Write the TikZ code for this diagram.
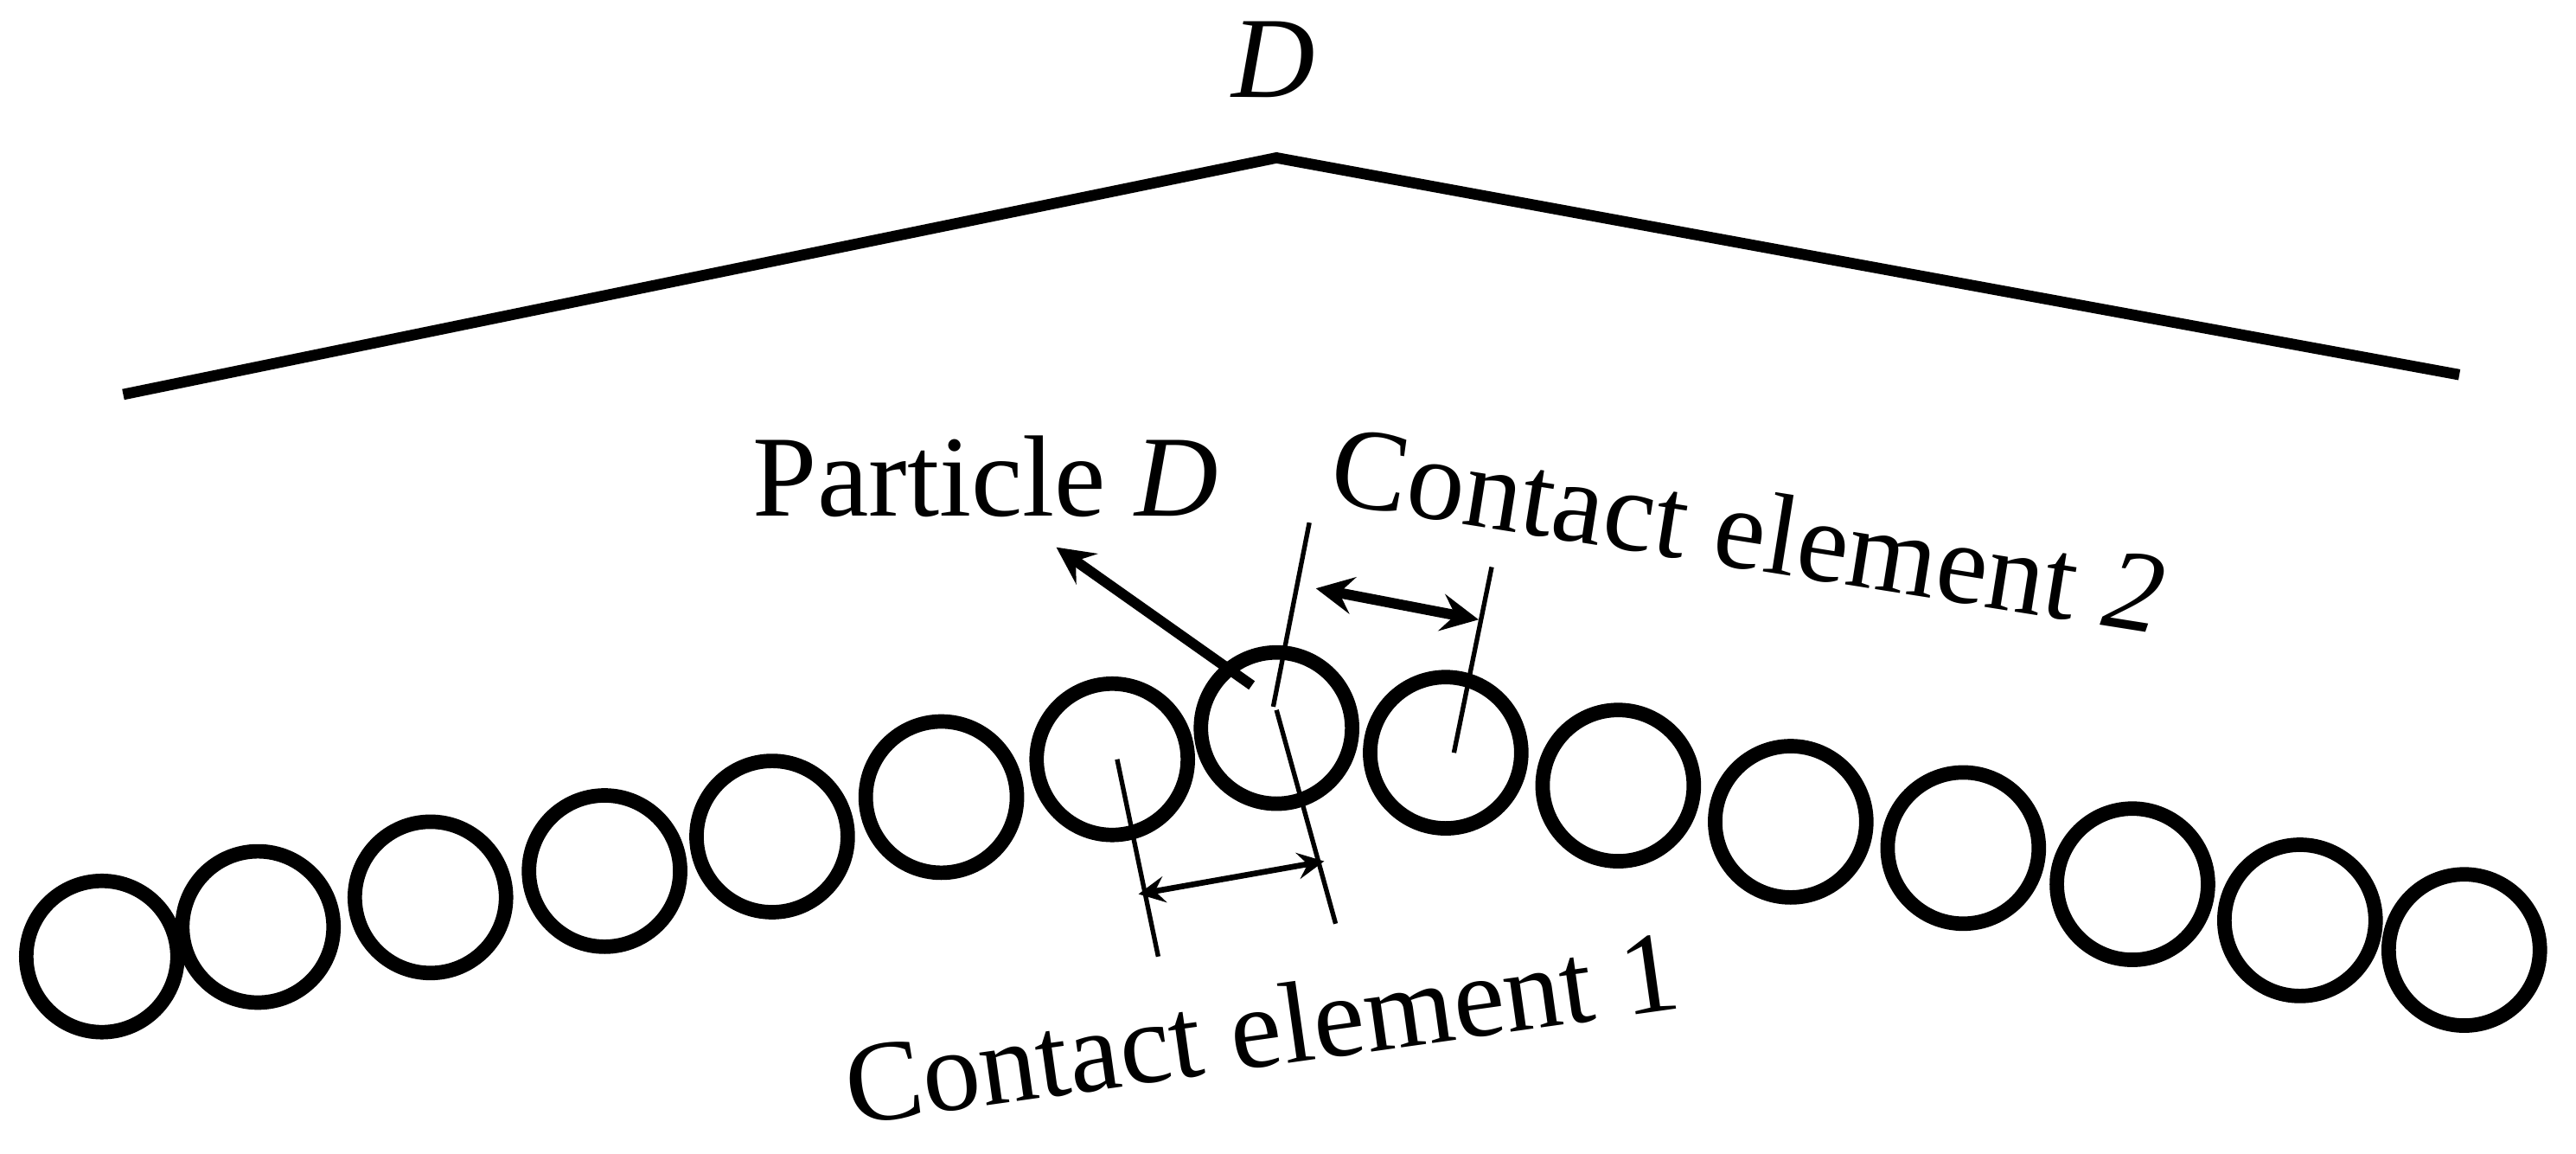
\documentclass[tikz,border=0pt]{standalone}
\usepackage{fontspec}
\setmainfont{Liberation Serif}
\begin{document}
\begin{tikzpicture}[x=0.01cm,y=-0.01cm,
  part/.style={draw=black,line width=2.5pt,circle,minimum size=0.92cm,inner sep=0pt},
  roof/.style={line width=1.9pt},
  tick/.style={line width=0.8pt},
  lbl/.style={font=\fontsize{20}{24}\selectfont,inner sep=0pt}]
\useasboundingbox (0,0) rectangle (1568,702);
\foreach \i/\x/\y in {1/62/582,2/157/564,3/262/546,4/368/530,5/470/509,6/573/485,7/677/462,8/777/443,9/880/458,10/985/478,11/1090/500,12/1195/516,13/1298/538,14/1400/560,15/1500/578}
  \node[part] (p\i) at (\x,\y) {};
\coordinate (r1) at (75,240); \coordinate (r2) at (777,96); \coordinate (r3) at (1497,228);
\draw[roof] (r1) -- (r2) -- (r3);
\node[lbl,font=\fontsize{20}{24}\selectfont\itshape] (D) at (775,36) {D};
% contact element 2
\coordinate (a1) at (797,318); \coordinate (a2) at (775,430);
\coordinate (b1) at (908,345); \coordinate (b2) at (885,458);
\draw[tick] (a1) -- (a2); \draw[tick] (b1) -- (b2);
\coordinate (c1) at (801,358); \coordinate (c2) at (900,377);
\draw[line width=1.8pt,<->,>=stealth] (c1) -- (c2);
% contact element 1
\coordinate (d1) at (680,462); \coordinate (d2) at (705,582);
\coordinate (e1) at (777,432); \coordinate (e2) at (813,562);
\draw[tick] (d1) -- (d2); \draw[tick] (e1) -- (e2);
\coordinate (f1) at (693,544); \coordinate (f2) at (806,524);
\draw[line width=1pt,<->,>=stealth] (f1) -- (f2);
% particle arrow
\coordinate (g1) at (762,417); \coordinate (g2) at (643,333);
\draw[line width=1.8pt,->,>=stealth] (g1) -- (g2);
\node[lbl] (pl) at (600,290) {Particle \textit{D}};
\node[lbl,rotate=-9] (ce2) at (1064,322) {Contact element \textit{2}};
\node[lbl,rotate=8] (ce1) at (768,625) {Contact element 1};
\end{tikzpicture}
\end{document}
